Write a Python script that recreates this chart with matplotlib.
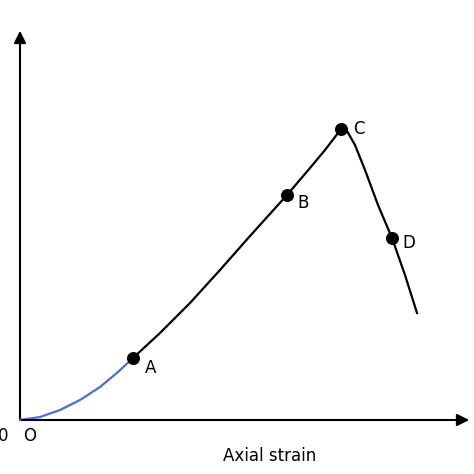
import numpy as np
import matplotlib.pyplot as plt

# curve points (pixel-like units, y downwards)
blue_x = [20, 40, 60, 80, 100, 118, 133]
blue_y = [420, 417, 410, 400, 387, 372, 358]
black_x = [133, 160, 190, 220, 250, 287, 310, 325, 335, 341, 347, 355, 365, 378, 392, 405, 417]
black_y = [358, 333, 303, 270, 236, 195, 168, 150, 137, 129, 131, 145, 170, 205, 238, 275, 313]
pt_names = ['A', 'B', 'C', 'D']
pt_x = [133, 287, 341, 392]
pt_y = [358, 195, 129, 238]

fig = plt.figure(figsize=(4.74, 4.74), dpi=100)
ax = fig.add_axes([0, 0, 1, 1])
ax.set_xlim(0, 474)
ax.set_ylim(474, 0)
ax.axis('off')

# axes with arrows
ax.annotate('', xy=(20, 28), xytext=(20, 421),
            arrowprops=dict(arrowstyle='-|>', color='black', lw=1.5, mutation_scale=18))
ax.annotate('', xy=(472, 420), xytext=(19, 420),
            arrowprops=dict(arrowstyle='-|>', color='black', lw=1.5, mutation_scale=18))

ax.plot(blue_x, blue_y, color='#4a6fd6', lw=1.6)
ax.plot(black_x, black_y, color='black', lw=1.6)
ax.scatter(pt_x, pt_y, s=70, color='black', zorder=3)

offsets = [(12, 10), (10, 8), (12, 0), (10, 5)]
for n, x, y, (dx, dy) in zip(pt_names, pt_x, pt_y, offsets):
    ax.text(x + dx, y + dy, n, fontsize=12, ha='left', va='center')

ax.text(30, 436, 'O', fontsize=12, ha='center', va='center')
ax.text(3, 436, '0', fontsize=12, ha='center', va='center')
ax.text(270, 456, 'Axial strain', fontsize=12, ha='center', va='center')

fig.savefig('out.png', dpi=100)
